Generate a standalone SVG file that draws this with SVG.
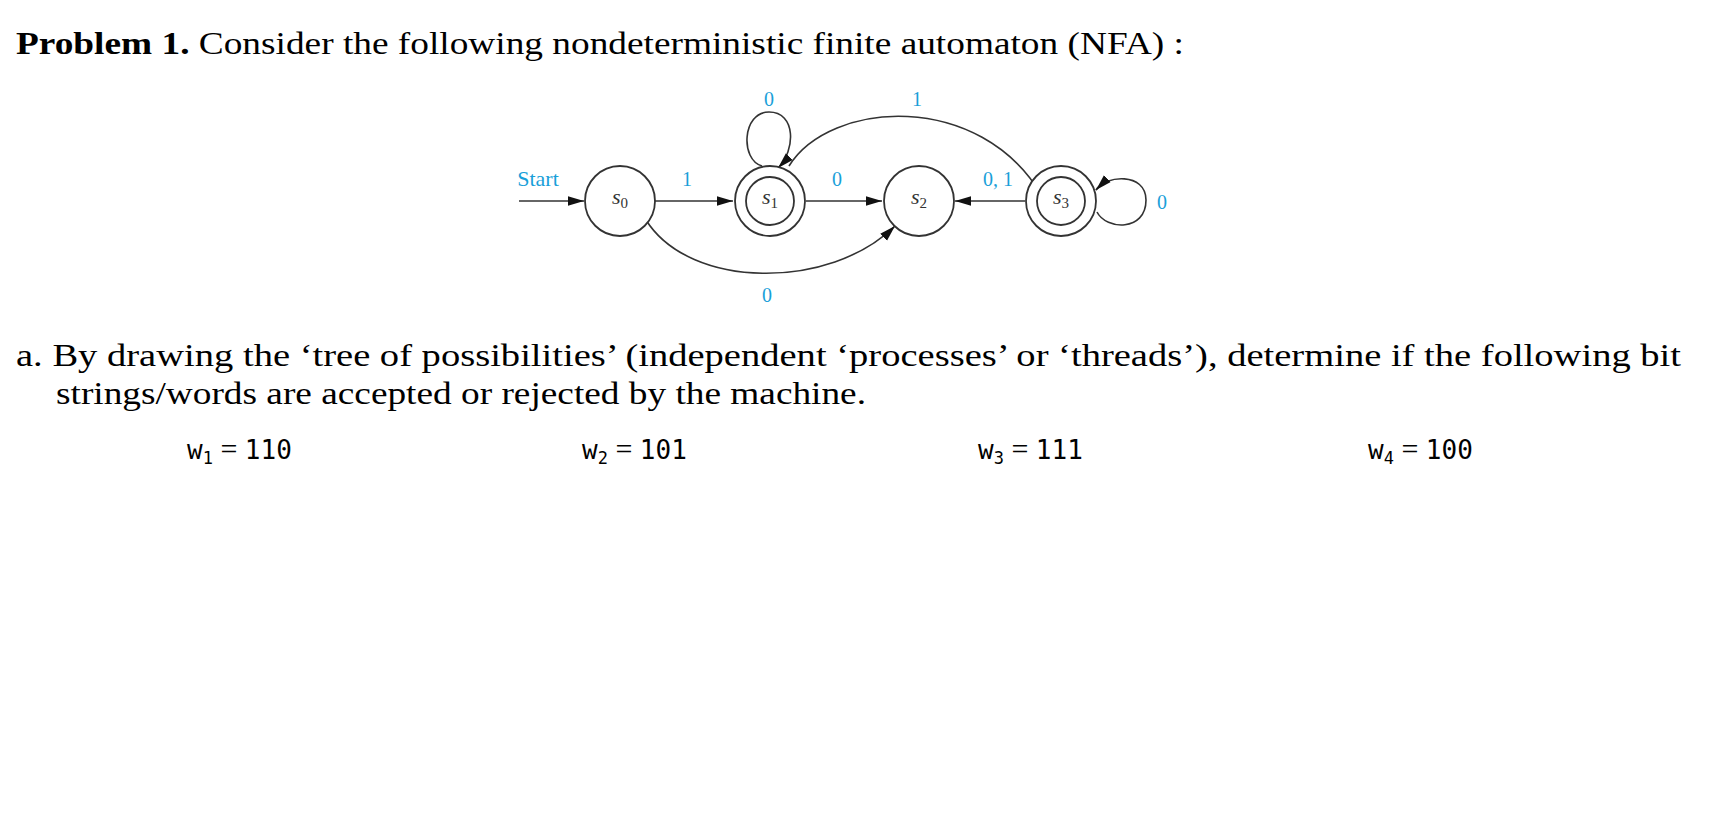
<svg xmlns="http://www.w3.org/2000/svg" width="1714" height="830" viewBox="0 0 1714 830">
<style>
.t{font-family:"Liberation Serif",serif;font-size:32px;fill:#000}
.m{font-family:"DejaVu Sans Mono","Liberation Mono",monospace;font-size:26px;fill:#000}
.lb{font-family:"Liberation Serif",serif;font-size:20px;fill:#1a9fd9;text-anchor:middle}
.st{font-family:"Liberation Serif",serif;font-size:22px;font-style:italic;fill:#333;text-anchor:middle}
.n{fill:#fff;stroke:#333;stroke-width:1.8}
.e{fill:none;stroke:#333;stroke-width:1.6}
</style>
<defs><marker id="b" viewBox="0 0 10 10" refX="10" refY="5" markerWidth="16" markerHeight="16" orient="auto" markerUnits="userSpaceOnUse"><path d="M0,2 L10,5 L0,8 z" fill="#111"/></marker></defs>
<text class="t" x="16" y="54" textLength="1168" lengthAdjust="spacingAndGlyphs"><tspan font-weight="bold">Problem 1.</tspan> Consider the following nondeterministic finite automaton (NFA) :</text>
<g id="edges">
<path class="e" d="M519,201 H584" marker-end="url(#b)"/>
<path class="e" d="M655,201 H733" marker-end="url(#b)"/>
<path class="e" d="M806,201 H882" marker-end="url(#b)"/>
<path class="e" d="M1025,201 H955" marker-end="url(#b)"/>
<path class="e" d="M762,166 C740,160 742,112 769,112 C796,112 796,150 778,168" marker-end="url(#b)"/>
<path class="e" d="M789,166 C830,100 980,90 1042,196" marker-end="url(#b)"/>
<path class="e" d="M1096,190 C1105,175 1146,172 1146,200 C1146,232 1106,230 1097,212"/>
<path class="e" d="M1106,180 L1096,190" marker-end="url(#b)"/>
<path class="e" d="M646,220 C690,290 830,290 895,226" marker-end="url(#b)"/>
</g>
<g id="labels">
<text class="lb" x="538" y="186" style="font-size:22px">Start</text>
<text class="lb" x="687" y="186">1</text>
<text class="lb" x="837" y="186">0</text>
<text class="lb" x="998" y="186">0, 1</text>
<text class="lb" x="769" y="106">0</text>
<text class="lb" x="917" y="106">1</text>
<text class="lb" x="1162" y="209">0</text>
<text class="lb" x="767" y="302">0</text>
</g>
<g id="s0"><circle class="n" cx="620" cy="201" r="35"/><text class="st" x="620" y="204">s<tspan font-size="15" font-style="normal" dy="4">0</tspan></text></g>
<g id="s1"><circle class="n" cx="770" cy="201" r="35"/><circle class="n" cx="770" cy="201" r="24"/><text class="st" x="770" y="204">s<tspan font-size="15" font-style="normal" dy="4">1</tspan></text></g>
<g id="s2"><circle class="n" cx="919" cy="201" r="35"/><text class="st" x="919" y="204">s<tspan font-size="15" font-style="normal" dy="4">2</tspan></text></g>
<g id="s3"><circle class="n" cx="1061" cy="201" r="35"/><circle class="n" cx="1061" cy="201" r="24"/><text class="st" x="1061" y="204">s<tspan font-size="15" font-style="normal" dy="4">3</tspan></text></g>
<text class="t" x="16" y="366" textLength="1665" lengthAdjust="spacingAndGlyphs">a. By drawing the ‘tree of possibilities’ (independent ‘processes’ or ‘threads’), determine if the following bit</text>
<text class="t" x="56" y="404" textLength="810" lengthAdjust="spacingAndGlyphs">strings/words are accepted or rejected by the machine.</text>
<text class="m" x="187" y="459">w<tspan font-size="17" dy="5">1</tspan><tspan dy="-5" font-family="Liberation Serif" font-size="30"> = </tspan>110</text>
<text class="m" x="582" y="459">w<tspan font-size="17" dy="5">2</tspan><tspan dy="-5" font-family="Liberation Serif" font-size="30"> = </tspan>101</text>
<text class="m" x="978" y="459">w<tspan font-size="17" dy="5">3</tspan><tspan dy="-5" font-family="Liberation Serif" font-size="30"> = </tspan>111</text>
<text class="m" x="1368" y="459">w<tspan font-size="17" dy="5">4</tspan><tspan dy="-5" font-family="Liberation Serif" font-size="30"> = </tspan>100</text>
</svg>
